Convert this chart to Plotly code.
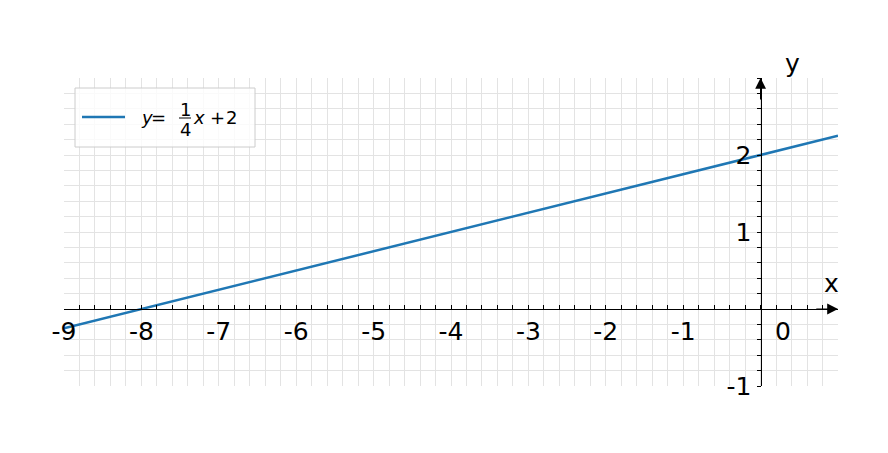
"""Line y = x/4 + 2 drawn on axes crossing at the origin."""
import plotly.graph_objects as go

# Data
line_x = [-9, 1]
line_y = [-0.25, 2.25]
x_ticks = [-9, -8, -7, -6, -5, -4, -3, -2, -1]
x_tick_text = ["-9", "-8", "-7", "-6", "-5", "-4", "-3", "-2", "-1"]
y_ticks = [-1, 1, 2]
y_tick_text = ["-1", "1", "2"]
x_range = [-9, 1]
y_range = [-1, 3]

W, H = 888, 453
L, R, T, B = 64, 838, 78, 386  # plot area in page pixels
OFF = 8  # the page body adds this much margin
FONT = "DejaVu Sans"
BLUE = "#1f77b4"
GRID = "#e3e3e3"


def px(x):
    return (x - L) / (R - L)


def py(y):
    return (B - y) / (B - T)


fig = go.Figure()
fig.add_trace(go.Scatter(x=line_x, y=line_y, mode="lines", line={"color": BLUE, "width": 2.5},
                         showlegend=False, hoverinfo="skip"))

axis_common = dict(showline=True, linecolor="black", linewidth=1.2, zeroline=False,
                   showgrid=True, gridcolor=GRID, gridwidth=1, ticklen=4, tickwidth=1,
                   tickcolor="black", tickmode="array", anchor="free",
                   tickfont={"family": FONT, "size": 25, "color": "black"})

fig.update_xaxes(range=x_range, tickvals=x_ticks, ticktext=x_tick_text, ticks="inside",
                 position=(0 - y_range[0]) / (y_range[1] - y_range[0]),
                 minor={"dtick": 0.2, "tick0": 0, "ticks": "inside", "ticklen": 4, "tickcolor": "black",
                        "showgrid": True, "gridcolor": GRID, "gridwidth": 1},
                 ticklabelstandoff=0, **axis_common)
fig.update_yaxes(range=y_range, tickvals=y_ticks, ticktext=y_tick_text, ticks="outside",
                 position=(0 - x_range[0]) / (x_range[1] - x_range[0]),
                 minor={"dtick": 0.2, "tick0": 0, "ticks": "outside", "ticklen": 4, "tickcolor": "black",
                        "showgrid": True, "gridcolor": GRID, "gridwidth": 1},
                 **axis_common)

# arrow heads at the ends of both axes
for tip, tail in (((x_range[1], 0), (x_range[1] - 0.3, 0)), ((0, y_range[1]), (0, y_range[1] - 0.3))):
    fig.add_annotation(x=tip[0], y=tip[1], ax=tail[0], ay=tail[1], xref="x", yref="y", axref="x", ayref="y",
                       text="", showarrow=True, arrowhead=2, arrowsize=1.8, arrowwidth=1.2, arrowcolor="black")

text_font = {"family": FONT, "size": 25, "color": "black"}
fig.add_annotation(x=px(783), y=py(331), xref="paper", yref="paper", text="0", showarrow=False,
                   font=text_font, xanchor="center", yanchor="middle")
fig.add_annotation(x=px(831), y=py(283), xref="paper", yref="paper", text="x", showarrow=False,
                   font=text_font, xanchor="center", yanchor="middle")
fig.add_annotation(x=px(792), y=py(63), xref="paper", yref="paper", text="y", showarrow=False,
                   font=text_font, xanchor="center", yanchor="middle")

# legend box drawn by hand so the fraction can be stacked
fig.add_shape(type="rect", xref="paper", yref="paper", x0=px(75), x1=px(255), y0=py(147), y1=py(88),
              line={"color": "#cccccc", "width": 1}, fillcolor="rgba(255,255,255,0.8)", layer="above")
fig.add_shape(type="line", xref="paper", yref="paper", x0=px(82), x1=px(125), y0=py(117), y1=py(117),
              line={"color": BLUE, "width": 2.6}, layer="above")
fig.add_shape(type="line", xref="paper", yref="paper", x0=px(179), x1=px(191), y0=py(118), y1=py(118),
              line={"color": "black", "width": 1}, layer="above")
leg_font = {"family": FONT, "size": 18, "color": "black"}
frac_font = {"family": FONT, "size": 18, "color": "black"}
for cx, glyph in ((147, "<i>y</i>"), (158, "="), (199, "<i>x</i>"), (217, "+"), (231, "2")):
    fig.add_annotation(x=px(cx), y=py(117), xref="paper", yref="paper", text=glyph, showarrow=False,
                       font=leg_font, xanchor="center", yanchor="middle")
fig.add_annotation(x=px(185), y=py(109), xref="paper", yref="paper", text="1", showarrow=False,
                   font=frac_font, xanchor="center", yanchor="middle")
fig.add_annotation(x=px(185), y=py(129), xref="paper", yref="paper", text="4", showarrow=False,
                   font=frac_font, xanchor="center", yanchor="middle")

fig.update_layout(width=W, height=H,
                  margin={"l": L - OFF, "r": W - R + OFF, "t": T - OFF, "b": H - B + OFF, "pad": 0},
                  plot_bgcolor="white", paper_bgcolor="white", showlegend=False,
                  font={"family": FONT})
fig.write_html("out.html")
